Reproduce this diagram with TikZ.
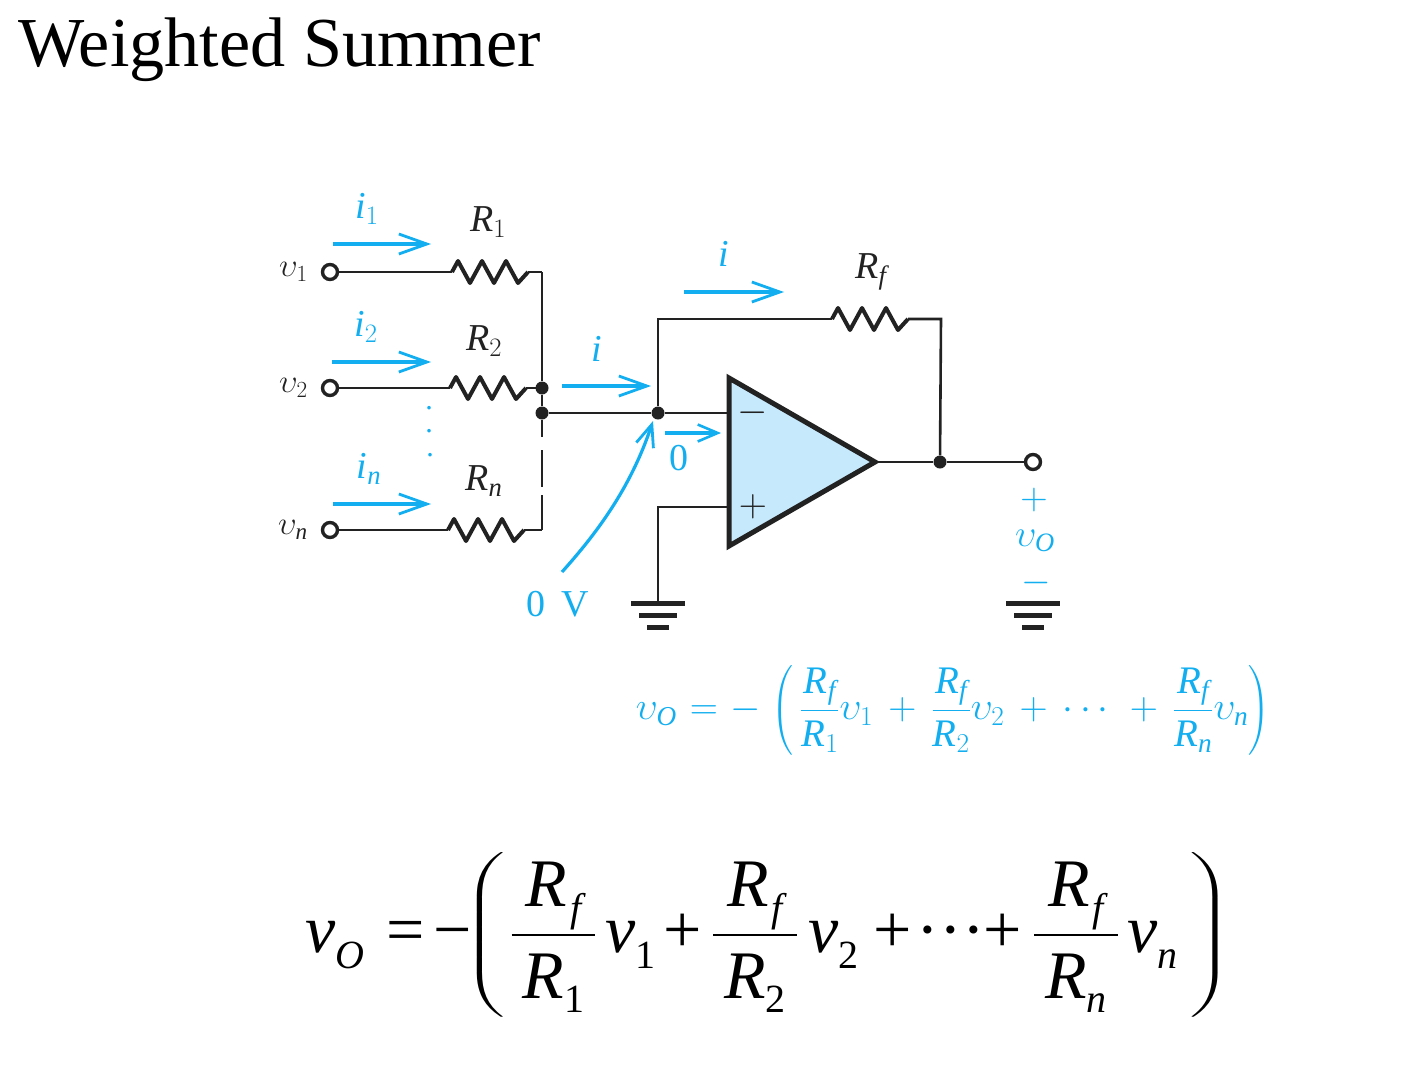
\documentclass[tikz,border=0pt]{standalone}
\usepackage{fix-cm}
\usepackage{exscale}
\usepackage{amsmath}
\usepackage{graphicx}
\usepackage{fontspec}
\setmainfont{Liberation Serif}
\usetikzlibrary{arrows.meta, positioning, calc}
\definecolor{sumblue}{HTML}{12AEEF}
\definecolor{opfill}{HTML}{C6E9FC}
\definecolor{wirecol}{HTML}{222222}
\newcommand{\mi}[1]{\text{\itshape #1}}
\newcommand{\fsz}[1]{\fontsize{#1}{#1}\selectfont}
\newcommand{\bsub}[2][16pt]{\hspace{3pt}\text{\raisebox{-#1}{\smash{\fsz{40}#2}}}}
\newcommand{\rfrac}[1]{\genfrac{}{}{2.4pt}{0}{\hspace{14pt}\mi{R}\bsub[15pt]{\itshape f}\hspace{14pt}}{\mi{R}\hspace{-3pt}\bsub[14pt]{#1}}}
\newcommand{\lpar}{\mathopen{\scalebox{1.9}[1]{$\left(\vcenter{\hbox{\rule{0pt}{168pt}}}\right.$}}}
\newcommand{\rpar}{\mathclose{\scalebox{1.9}[1]{$\left.\vcenter{\hbox{\rule{0pt}{168pt}}}\right)$}}}
\tikzset{
	wire/.style={draw=wirecol, line width=2.6pt},
	res/.style={line width=4pt, line join=round, to path={-- ++(6,-11) -- ++(12,22) -- ++(12,-22) -- ++(12,22) -- ++(12,-22) -- ++(12,22) -- (\tikztotarget)}},
	term/.style={circle, draw=wirecol, line width=3.4pt, fill=white, inner sep=0pt, minimum size=15pt},
	dotnode/.style={circle, fill=wirecol, inner sep=0pt, minimum size=13pt},
	cur/.style={draw=sumblue, line width=3.2pt, -{Straight Barb[length=28pt, width=20pt, line width=2.8pt]}},
	blab/.style={text=sumblue, inner sep=0pt, font=\fsz{38}},
	dlab/.style={text=wirecol, inner sep=0pt, font=\fsz{38}},
	gnd/.style={draw=wirecol, line width=5pt}
}
\begin{document}
\begin{tikzpicture}[x=1pt, y=-1pt]
	\useasboundingbox (0,0) rectangle (1428,1066);
	\node[anchor=west, inner sep=0pt, font=\fsz{70.2}] (title) at (18,50) {Weighted Summer};

	\foreach \k/\sub/\ypos/\xres/\xlab/\ylab in {1/1/272/452/488/222, 2/2/388/450/484/341, n/\mi{n}/530/448/484/481} {
		\node[term] (v\k) at (330,\ypos) {};
		\node[dlab, font=\fsz{33}, left=13pt of v\k] (vl\k) {$\upsilon_{\sub}$};
		\coordinate (ra\k) at (\xres,\ypos);
		\coordinate (rb\k) at ($(\xres,\ypos)+(76,0)$);
		\coordinate (bus\k) at (542,\ypos);
		\draw[wire] (v\k) -- (ra\k);
		\draw[wire, res] (ra\k) to (rb\k);
		\draw[wire] (rb\k) -- (bus\k);
		\node[dlab] (rl\k) at (\xlab,\ylab) {$\mi{R}_{\sub}$};
	}

	\node[dotnode] (j1) at (542,388) {};
	\node[dotnode] (j2) at (542,413) {};
	\node[dotnode] (j3) at (658,413) {};
	\coordinate (gapa) at (542,437);
	\coordinate (gapb) at (542,450);
	\coordinate (gapc) at (542,487);
	\coordinate (gapd) at (542,495);
	\draw[wire] (bus1) -- (j1) -- (j2) -- (gapa);
	\draw[wire] (gapb) -- (gapc);
	\draw[wire] (gapd) -- (busn);

	\coordinate (opa) at (729,378);
	\coordinate (opb) at (729,546);
	\coordinate (opc) at (875,462);
	\coordinate (minus) at (729,413);
	\coordinate (plus) at (729,507);
	\node[dotnode] (j4) at (940,462) {};
	\node[term] (vout) at (1033,462) {};
	\coordinate (fa) at (658,319);
	\coordinate (fb) at (832,319);
	\coordinate (fc) at (908,319);
	\coordinate (fd) at (941,319);
	\coordinate (pa) at (658,507);
	\coordinate (ga) at (658,603);

	\draw[wire] (j2) -- (j3) -- (minus);
	\draw[wire] (j3) -- (fa) -- (fb);
	\draw[wire, res] (fb) to (fc);
	\draw[wire] (fc) -- (fd) -- (j4);
	\draw[wire] (opc) -- (j4) -- (vout);
	\draw[wire] (plus) -- (pa) -- (ga);
	\draw[draw=wirecol, fill=opfill, line width=5pt, line join=miter] (opa) -- (opb) -- (opc) -- cycle;
	\node[text=wirecol, inner sep=0pt, font=\fsz{39}] (mn) at (753,413) {$-$};
	\node[text=wirecol, inner sep=0pt, font=\fsz{39}] (pl) at (753,507) {$+$};

	\foreach \xc/\yc/\nm in {658/603/g, 1033/603/h} {
		\coordinate (\nm a) at (\xc-27,\yc);
		\coordinate (\nm b) at (\xc+27,\yc);
		\coordinate (\nm c) at (\xc-19,\yc+12);
		\coordinate (\nm d) at (\xc+19,\yc+12);
		\coordinate (\nm e) at (\xc-11,\yc+24);
		\coordinate (\nm f) at (\xc+11,\yc+24);
		\draw[gnd] (\nm a) -- (\nm b);
		\draw[gnd] (\nm c) -- (\nm d);
		\draw[gnd] (\nm e) -- (\nm f);
	}

	\coordinate (ia1) at (333,244);
	\coordinate (ib1) at (431,244);
	\coordinate (ia2) at (332,362);
	\coordinate (ib2) at (431,362);
	\coordinate (ia3) at (333,504);
	\coordinate (ib3) at (431,504);
	\coordinate (ia4) at (562,386);
	\coordinate (ib4) at (651,386);
	\coordinate (ia5) at (684,292);
	\coordinate (ib5) at (784,292);
	\coordinate (ia6) at (665,433);
	\coordinate (ib6) at (721,433);
	\foreach \n in {1,2,3,4,5} \draw[cur] (ia\n) -- (ib\n);
	\draw[draw=sumblue, line width=3.2pt, -{Straight Barb[length=20pt, width=17pt, line width=2.6pt]}] (ia6) -- (ib6);

	\coordinate (za) at (562,572);
	\coordinate (zb) at (653,421);
	\draw[draw=sumblue, line width=3.2pt, -{Straight Barb[length=22pt, width=18pt, line width=2.8pt]}] (za) .. controls (595,535) and (630,490) .. (zb);

	\node[blab] (il1) at (367,209) {$\mi{i}_{1}$};
	\node[blab] (il2) at (366,327) {$\mi{i}_{2}$};
	\node[blab] (il3) at (369,469) {$\mi{i}_{\mi{n}}$};
	\node[blab] (il4) at (597,349) {$\mi{i}$};
	\node[blab] (il5) at (724,254) {$\mi{i}$};
	\node[blab] (zr) at (679,458) {0};
	\node[blab] (zv) at (558,604) {0\, V};
	\node[dlab] (rlf) at (871,272) {$\mi{R}_{\mi{f}}$};
	\node[blab] (vop) at (1034,500) {$+$};
	\node[blab] (vol) at (1035,541) {$\upsilon_{\mi{O}}$};
	\node[blab] (vom) at (1036,583) {$-$};
	\node[blab, font=\fsz{30}] (da) at (429,408) {.};
	\node[blab, font=\fsz{30}] (db) at (429,431) {.};
	\node[blab, font=\fsz{30}] (dc) at (430,455) {.};

	\node[blab, font=\fsz{39}] (eqa) at (953,710) {\medmuskip=7mu\thickmuskip=6mu$\upsilon_{\mi{O}}=-\mkern2mu\left(\mkern3mu\dfrac{\mi{R}_{\mi{f}}}{\mi{R}_{1}}\upsilon_{1}+\dfrac{\mi{R}_{\mi{f}}}{\mi{R}_{2}}\upsilon_{2}+\cdots\mkern3mu+\dfrac{\mi{R}_{\mi{f}}}{\mi{R}_{\mi{n}}}\upsilon_{\mi{n}}\right)$};
	\node[inner sep=0pt, font=\fsz{68}] (eqb) at (768.5,935) {$\mi{v}\hspace{-3pt}\bsub{\itshape O}\hspace{22pt}\text{=}\hspace{9pt}\text{−}\hspace{-8pt}\lpar\hspace{3pt}\rfrac{1}\hspace{9pt}\mi{v}\hspace{-3pt}\bsub{1}\hspace{8pt}\text{+}\hspace{10pt}\rfrac{2}\hspace{10pt}\mi{v}\hspace{-3pt}\bsub{2}\hspace{15pt}\text{+}\hspace{5pt}\text{·\kern0.5pt·\kern0.5pt·}\hspace{-2pt}\text{+}\hspace{11pt}\rfrac{\itshape n}\hspace{8pt}\mi{v}\hspace{-3pt}\bsub{\itshape n}\hspace{11pt}\rpar$};
\end{tikzpicture}
\end{document}
